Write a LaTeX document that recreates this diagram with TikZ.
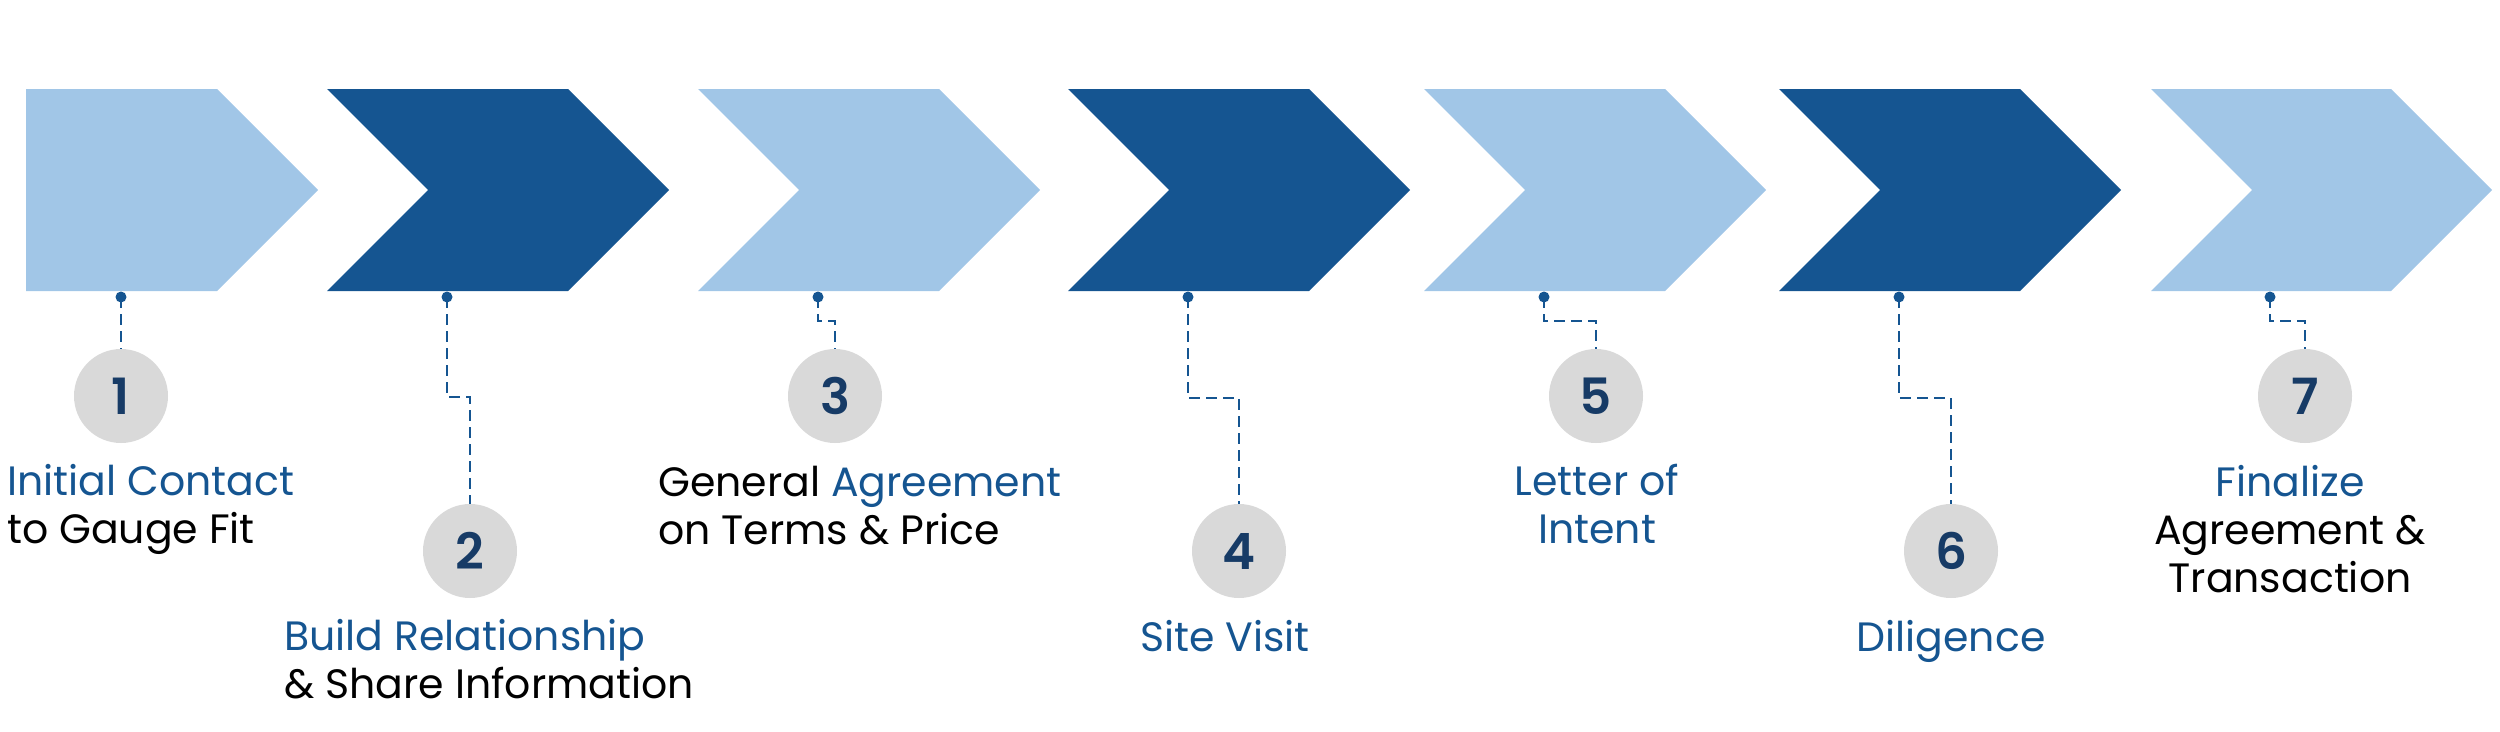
\documentclass[tikz,border=0pt]{standalone}
\usepackage{fontspec}
\setmainfont{Poppins}
\newfontfamily\digitfont{Poppins SemiBold}
\usepackage{xcolor}
\usetikzlibrary{positioning}

\definecolor{deepblue}{HTML}{155591}
\definecolor{paleblue}{HTML}{A1C6E7}
\definecolor{discgray}{HTML}{D9D9D9}
\definecolor{numnavy}{HTML}{173B66}

\tikzset{
  disc/.style={circle,fill=discgray,minimum size=94pt,inner sep=0pt,text=numnavy,font=\digitfont\fontsize{50}{50}\selectfont},
  link/.style={deepblue,line width=2.6pt,dash pattern=on 11pt off 6pt},
  lbl/.style={inner sep=0pt,font=\fontsize{41}{48}\selectfont},
}

\begin{document}
\begin{tikzpicture}[x=1pt,y=-1pt]
\useasboundingbox (0,0) rectangle (2500,731);
% chevrons
\fill[paleblue] (26,89)--(217,89)--(318,190)--(217,291)--(26,291)--cycle;
\fill[deepblue] (327,89)--(568,89)--(669,190)--(568,291)--(327,291)--(428,190)--cycle;
\fill[paleblue] (698,89)--(939,89)--(1040,190)--(939,291)--(698,291)--(799,190)--cycle;
\fill[deepblue] (1068,89)--(1309,89)--(1410,190)--(1309,291)--(1068,291)--(1169,190)--cycle;
\fill[paleblue] (1424,89)--(1665,89)--(1766,190)--(1665,291)--(1424,291)--(1525,190)--cycle;
\fill[deepblue] (1779,89)--(2020,89)--(2121,190)--(2020,291)--(1779,291)--(1880,190)--cycle;
\fill[paleblue] (2151,89)--(2391,89)--(2492,190)--(2391,291)--(2151,291)--(2252,190)--cycle;
% pins
\coordinate (p1) at (121,297);
\coordinate (p2) at (447,297);
\coordinate (p3) at (818,297);
\coordinate (p4) at (1188,297);
\coordinate (p5) at (1544,297);
\coordinate (p6) at (1899,297);
\coordinate (p7) at (2270,297);
% step numbers
\node[disc] (c1) at (121,396) {1};
\node[disc] (c2) at (470,551) {2};
\node[disc] (c3) at (835,396) {3};
\node[disc] (c4) at (1239,551) {4};
\node[disc] (c5) at (1596,396) {5};
\node[disc] (c6) at (1951,551) {6};
\node[disc] (c7) at (2305,396) {7};
% dashed leads
\draw[link] (p1)--(c1.north);
\draw[link] (p2)--++(0,100)-|(c2.north);
\draw[link] (p3)--++(0,24)-|(c3.north);
\draw[link] (p4)--++(0,101)-|(c4.north);
\draw[link] (p5)--++(0,24)-|(c5.north);
\draw[link] (p6)--++(0,101)-|(c6.north);
\draw[link] (p7)--++(0,24)-|(c7.north);
\foreach \p in {p1,p2,p3,p4,p5,p6,p7} \fill[deepblue] (\p) circle[radius=5.5pt];
% labels (base = last line)
\node[lbl,anchor=base west,align=left] (t1) at (7,543) {\textcolor{deepblue}{Initial Contact}\\to Gauge Fit};
\node[lbl,anchor=base west,align=left] (t2) at (284,698) {\textcolor{deepblue}{Build Relationship}\\\& Share Information};
\node[lbl,anchor=base west,align=left] (t3) at (658,544) {General \textcolor{deepblue}{Agreement}\\on Terms \& Price};
\node[lbl,anchor=base,text=deepblue] (t4) at (1225,651) {Site Visit};
\node[lbl,anchor=base,align=center,text=deepblue] (t5) at (1597,543) {Letter of\\Intent};
\node[lbl,anchor=base,text=deepblue] (t6) at (1951,651) {Diligence};
\node[lbl,anchor=base,align=center] (t7) at (2290,592) {\textcolor{deepblue}{Finalize}\\Agreement \&\\Transaction};
\end{tikzpicture}
\end{document}
